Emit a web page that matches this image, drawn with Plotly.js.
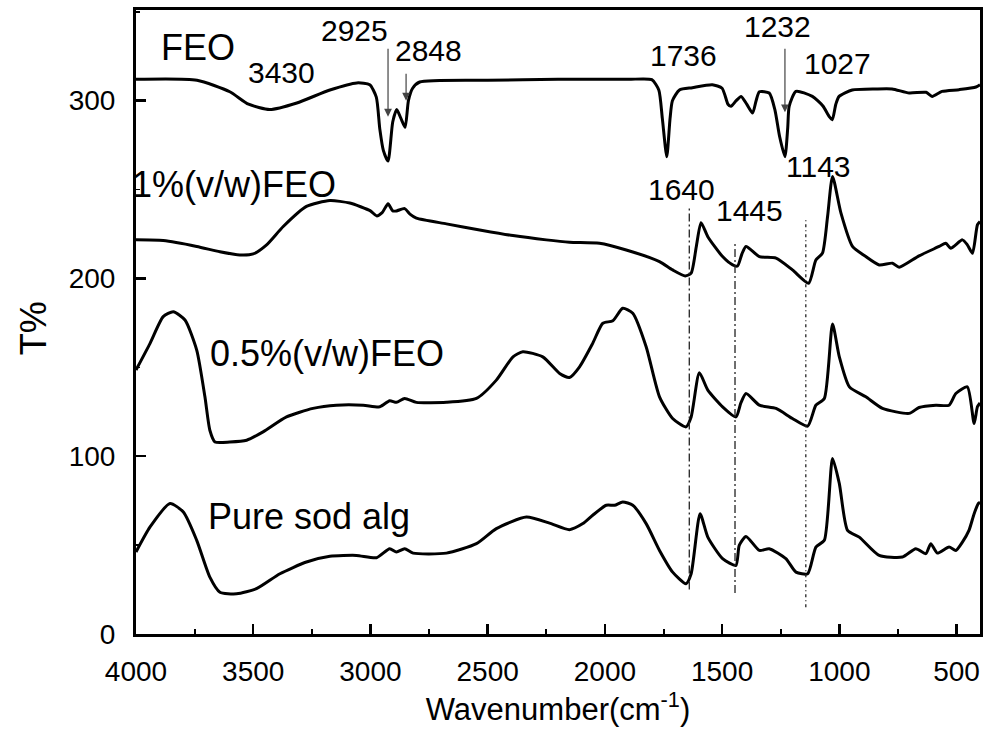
<!DOCTYPE html>
<html>
<head>
<meta charset="utf-8">
<script src="https://cdn.plot.ly/plotly-3.0.1.min.js"></script>
<style>
  html, body { margin: 0; padding: 0; background: #fff; }
  #chart { width: 1008px; height: 749px; }
</style>
</head>
<body>
<div id="chart"></div>
<script>
// FTIR spectra, stacked with vertical offsets (T%)
const feoWave = [4000,3740,3600,3520,3430,3314,3173,3058,3003,2975,2960,2945,2925,2905,2888,2870,2852,2838,2820,2790,2500,2200,1900,1800,1770,1755,1736,1722,1712,1682,1627,1542,1500,1475,1462,1440,1419,1395,1370,1355,1341,1299,1275,1255,1232,1220,1214,1185,1115,1070,1043,1030,1015,1001,945,843,775,702,630,604,562,489,417,400];
const feoT    = [312,311.5,305,298,295,298.7,306,310,309,302,284,272,266,288,295,290,285,300,307,310.5,311.5,312,312,311.8,306,290,268.5,290,300,306,307.3,309,307,298,296.8,300,302.4,298,293,300,305,304.3,295,280,268.5,285,296.8,305.2,302.4,297,291,289.3,298,302.4,306,306.6,306.6,304.3,304.7,302.4,305.2,306.2,307.7,309];

const feo1Wave = [4000,3884,3741,3642,3557,3500,3443,3372,3273,3173,3088,3000,2974,2950,2925,2905,2889,2854,2830,2804,2676,2534,2392,2250,2151,2023,1909,1767,1711,1657,1632,1610,1590,1561,1498,1455,1434,1415,1398,1341,1270,1200,1131,1100,1072,1050,1029,993,944,887,830,773,745,660,574,546,525,475,454,432,411,400];
const feo1T    = [221.7,221.3,218,215,213.2,213.8,218.9,229.2,240.5,243.8,242.4,238,235.2,237,242,238,238,239.3,236,233.9,230.7,227.3,224.1,221.7,220.4,219.8,216,209.5,204.8,201.4,203,218,231.4,223.5,212.3,207.6,207,214,218,212.3,211.4,204.8,197.3,210.4,214.2,235,257.4,236.7,218,212.3,207.6,208.6,206.3,212.7,218,219.8,217,221.7,218.9,214.2,230.1,232];

const feo05Wave = [4000,3940,3884,3841,3791,3741,3706,3685,3663,3600,3528,3458,3358,3245,3145,3031,2960,2918,2889,2854,2804,2676,2548,2463,2392,2350,2265,2193,2151,2108,2052,2009,1966,1924,1881,1824,1767,1711,1654,1632,1597,1561,1498,1441,1420,1398,1341,1270,1200,1135,1100,1064,1029,1000,957,887,816,702,660,588,532,503,454,425,411,400];
const feo05T    = [148.5,163.5,178.5,181.3,176.6,159.7,133.4,114.6,108,108,109,113.7,122.1,126.9,128.7,128.7,127.8,131.2,130.3,132.5,130.3,130.3,132.5,142.8,155.9,158.8,155.9,146.6,144.3,150.3,163.5,174.8,176.2,183.2,180.4,161.6,133.4,121.2,116.5,122.1,146.9,137.2,127.8,122.1,130,135.3,128.7,126.9,121.2,116.9,128.7,132.5,174.4,155.9,139,133.4,126.9,124.1,127.4,128.7,128.7,135.3,139,118.4,127.8,130];

const algWave = [4000,3940,3855,3798,3741,3685,3642,3571,3486,3386,3273,3173,3060,2974,2918,2889,2854,2818,2676,2548,2463,2335,2236,2151,2094,2052,1994,1959,1924,1881,1824,1767,1711,1654,1632,1594,1561,1498,1441,1427,1398,1341,1299,1228,1185,1135,1100,1064,1029,1000,965,915,830,731,674,631,610,582,532,503,475,447,425,407,400];
const algT    = [46.1,60.2,73.4,68.6,52.7,32,23.5,22.6,25.5,33.9,40.5,43.7,44.2,42.9,48,46.1,48,45.5,45.5,50.8,59.3,65.8,62.4,58.7,62.1,66.8,72.4,72.4,74.3,72.4,62.1,47,34.8,28.3,33.9,67.7,54.5,42.4,38.6,49.9,54.9,47,48,42.4,34.8,33.9,48.9,52.7,98.7,84.6,58.3,54.5,44.2,43.3,48,45.2,50.8,45.5,48.9,47,51.7,58.3,67.7,73.4,74];

// Band guides drawn through the blend spectra
const guideWave   = [1640, 1445, 1143];
const guideTop    = [240, 220, 234];
const guideBottom = [25, 23, 15];

// Sample names
const sampleNames = ["FEO", "1%(v/w)FEO", "0.5%(v/w)FEO", "Pure sod alg"];

// Axis ticks
const xTicks = [4000, 3500, 3000, 2500, 2000, 1500, 1000, 500];
const yTicks = [0, 100, 200, 300];

const FONT = "Arial, 'Liberation Sans', Helvetica, sans-serif";
const lineStyle = {color: "#000", width: 3, shape: "spline", smoothing: 0.6};

const traces = [
  {x: feoWave, y: feoT, name: sampleNames[0]},
  {x: feo1Wave, y: feo1T, name: sampleNames[1]},
  {x: feo05Wave, y: feo05T, name: sampleNames[2]},
  {x: algWave, y: algT, name: sampleNames[3]}
].map(t => Object.assign(t, {type: "scatter", mode: "lines", line: lineStyle, hoverinfo: "x+y"}));

const guideDash = ["8px,3px,2px,3px", "8px,3px,2px,3px", "3px,3px,1px,3px"];
const shapes = guideWave.map((w, i) => ({
  type: "line", xref: "x", yref: "y",
  x0: w, x1: w, y0: guideBottom[i], y1: guideTop[i],
  line: {color: "#222", width: 1.3, dash: guideDash[i]}
}));

const numFont = {family: FONT, size: 30, color: "#000"};
const nameFont = {family: FONT, size: 36, color: "#000"};

function label(text, x, y, font, xanchor) {
  return {text: String(text), x: x, y: y, xref: "x", yref: "y", showarrow: false,
          font: font, xanchor: xanchor || "center", yanchor: "middle"};
}
function arrow(x, yTip, yTail) {
  return {text: "", x: x, y: yTip, ax: x, ay: yTail, axref: "x", ayref: "y",
          xref: "x", yref: "y", showarrow: true, arrowhead: 2, arrowsize: 1.3,
          arrowwidth: 1.2, arrowcolor: "#444", standoff: 0, startstandoff: 0};
}

const annotations = [
  label(sampleNames[0], 3736, 330, nameFont),
  label(sampleNames[1], 4000, 253, nameFont, "left"),
  label(sampleNames[2], 3695, 158, nameFont, "left"),
  label(sampleNames[3], 3700, 66, nameFont, "left"),
  label(3430, 3378, 316, numFont),
  label(2925, 3070, 339.5, numFont),
  label(2848, 2754, 328.5, numFont),
  label(1736, 1666, 325.5, numFont),
  label(1232, 1265, 342, numFont),
  label(1027, 1009, 321, numFont),
  label(1143, 1090, 263, numFont),
  label(1640, 1675, 250, numFont),
  label(1445, 1385, 238, numFont),
  arrow(2925, 291, 330),
  arrow(2848, 300, 316),
  arrow(1232, 293.5, 330),
  {text: "T%", textangle: -90, xref: "paper", yref: "paper", x: -0.122, y: 0.49,
   showarrow: false, font: {family: FONT, size: 36, color: "#000"}, xanchor: "center", yanchor: "middle"}
];

annotations[1].xshift = -6;

const layout = {
  width: 1008, height: 749,
  margin: {l: 136, r: 28, t: 10, b: 115},
  paper_bgcolor: "#fff", plot_bgcolor: "#fff",
  showlegend: false,
  font: {family: FONT, color: "#000"},
  xaxis: {
    range: [4000, 400], tickvals: xTicks, ticks: "inside", ticklen: 10, tickwidth: 2.5,
    tickcolor: "#000", showline: true, mirror: true, linewidth: 3, linecolor: "#000",
    showgrid: false, zeroline: false, ticklabelstandoff: 10,
    tickfont: {family: FONT, size: 28, color: "#000"},
    minor: {dtick: 250, ticks: "inside", ticklen: 5, tickwidth: 2, tickcolor: "#000", showgrid: false},
    title: {text: "Wavenumber(cm<sup>-1</sup>)", font: {family: FONT, size: 31, color: "#000"}, standoff: 10}
  },
  yaxis: {
    range: [0, 351], tickvals: yTicks, ticks: "inside", ticklen: 10, tickwidth: 2.5,
    tickcolor: "#000", showline: true, mirror: true, linewidth: 3, linecolor: "#000",
    showgrid: false, zeroline: false, ticklabelstandoff: 12,
    tickfont: {family: FONT, size: 28, color: "#000"},
    minor: {dtick: 50, ticks: "inside", ticklen: 4, tickwidth: 1.5, tickcolor: "#000", showgrid: false}
  },
  shapes: shapes,
  annotations: annotations
};

Plotly.newPlot("chart", traces, layout, {displayModeBar: false, staticPlot: true});
</script>
</body>
</html>
